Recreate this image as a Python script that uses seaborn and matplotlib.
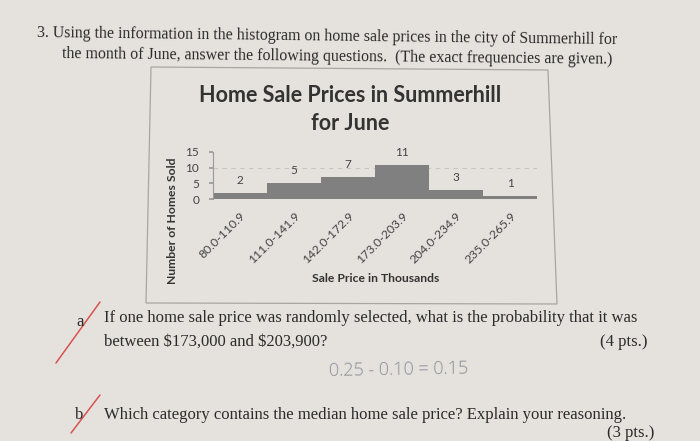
import matplotlib
matplotlib.use("Agg")
import matplotlib.pyplot as plt
import seaborn as sns
import pandas as pd
from matplotlib.patches import Polygon
from matplotlib.lines import Line2D

# ---- data ----
price_bins = ["80.0-110.9", "111.0-141.9", "142.0-172.9", "173.0-203.9", "204.0-234.9", "235.0-265.9"]
homes_sold = [2, 5, 7, 11, 3, 1]
y_ticks = [0, 5, 10, 15]

title_lines = ["Home Sale Prices in Summerhill", "for June"]
x_label = "Sale Price in Thousands"
y_label = "Number of Homes Sold"
question_intro = ["3. Using the information in the histogram on home sale prices in the city of Summerhill for",
                  "the month of June, answer the following questions.  (The exact frequencies are given.)"]
question_a = ["If one home sale price was randomly selected, what is the probability that it was",
              "between \\$173,000 and \\$203,900?"]
question_b = "Which category contains the median home sale price? Explain your reasoning."
handwriting = "0.25 - 0.10 = 0.15"

df = pd.DataFrame({"bin": price_bins, "count": homes_sold})

sns.set_theme(style="white")
paper = "#e5e1dc"
W, H = 700, 441
fig = plt.figure(figsize=(7, 4.41), dpi=100, facecolor=paper)

def fx(px):
    return px / W

def fy(py):
    return 1 - py / H

serif = ["Liberation Serif", "DejaVu Serif"]
sans = ["Lato", "DejaVu Sans"]
ink = "#2b2b2b"
fs_intro = 11.4
fs_q = 12.0

# chart frame (photographed, slightly skewed)
frame = Polygon([(fx(151), fy(67)), (fx(548), fy(70)), (fx(557), fy(304)), (fx(146), fy(303))],
                closed=True, fill=False, edgecolor="#a9a6a2", linewidth=0.9,
                transform=fig.transFigure)
fig.patches.append(frame)

# worksheet text
fig.text(fx(37), fy(33), question_intro[0], family=serif, fontsize=fs_intro, color=ink,
         ha="left", va="center", rotation=-0.7, rotation_mode="anchor")
fig.text(fx(62), fy(54), question_intro[1], family=serif, fontsize=fs_intro, color=ink,
         ha="left", va="center", rotation=-0.6, rotation_mode="anchor")

# chart title
fig.text(fx(350), fy(95), title_lines[0], family=sans, fontweight="bold", fontsize=15.5,
         color="#333333", ha="center", va="center")
fig.text(fx(350), fy(123), title_lines[1], family=sans, fontweight="bold", fontsize=15.5,
         color="#333333", ha="center", va="center")

# axes (plot area)
ax_left, ax_right, ax_bottom, ax_top = 213, 537, 199, 152
ax = fig.add_axes([fx(ax_left), fy(ax_bottom), fx(ax_right - ax_left), (ax_bottom - ax_top) / H])
ax.set_facecolor("none")

sns.barplot(data=df, x="bin", y="count", color="#808080", width=1.0, saturation=1,
            edgecolor="none", linewidth=0, ax=ax, zorder=2)
ax.axhline(10, color="#c8c4bf", linestyle=(0, (4, 4)), linewidth=0.8, zorder=1)

for cont in ax.containers:
    ax.bar_label(cont, labels=[str(v) for v in homes_sold], padding=5,
                 fontsize=8.5, family=sans, color="#444444")

ax.set_xlim(-0.5, len(price_bins) - 0.5)
ax.set_ylim(0, 15)
ax.set_yticks(y_ticks)
ax.set_yticklabels([str(t) for t in y_ticks], fontsize=8.5, family=sans, color="#444444")
ax.set_xticks(range(len(price_bins)))
ax.set_xticklabels(price_bins, rotation=45, ha="right", rotation_mode="anchor",
                   fontsize=8.8, family=sans, color="#444444")
ax.tick_params(axis="y", length=3, color="#9a9a9a", pad=7, left=True)
ax.tick_params(axis="x", length=0, pad=8)
for s in ["top", "right", "bottom"]:
    ax.spines[s].set_visible(False)
ax.spines["left"].set_color("#9a9a9a")
ax.spines["left"].set_linewidth(0.8)

ax.set_xlabel(x_label, family=sans, fontweight="bold", fontsize=8.7, color="#333333")
ax.set_ylabel(y_label, family=sans, fontweight="bold", fontsize=8.7, color="#333333")
ax.xaxis.set_label_coords((376 - ax_left) / (ax_right - ax_left), (ax_bottom - 278) / (ax_bottom - ax_top))
ax.yaxis.set_label_coords((172 - ax_left) / (ax_right - ax_left), (ax_bottom - 221) / (ax_bottom - ax_top))
ax.xaxis.label.set_verticalalignment("center")
ax.yaxis.label.set_verticalalignment("center")

# question a
fig.text(fx(76), fy(322), "a", family=serif, fontsize=fs_q, color=ink, ha="left", va="center")
fig.text(fx(104), fy(318), question_a[0], family=serif, fontsize=fs_q, color=ink, ha="left", va="center")
fig.text(fx(104), fy(342), question_a[1], family=serif, fontsize=fs_q, color=ink, ha="left", va="center")
fig.text(fx(648), fy(342), "(4 pts.)", family=serif, fontsize=fs_q, color=ink, ha="right", va="center")
fig.text(fx(399), fy(370), handwriting, family=["Open Sans", "DejaVu Sans"], fontweight="light",
         fontsize=13, color="#8c909a", ha="center", va="center", rotation=1)

# question b
fig.text(fx(75), fy(415), "b", family=serif, fontsize=fs_q, color=ink, ha="left", va="center")
fig.text(fx(104), fy(415), question_b, family=serif, fontsize=fs_q, color=ink, ha="left", va="center")
fig.text(fx(654), fy(433), "(3 pts.)", family=serif, fontsize=fs_q, color=ink, ha="right", va="center")

# red check strokes
fig.lines.append(Line2D([fx(56), fx(100)], [fy(363), fy(302)], transform=fig.transFigure,
                        color="#d9534f", linewidth=1.1))
fig.lines.append(Line2D([fx(71), fx(100)], [fy(433), fy(395)], transform=fig.transFigure,
                        color="#d9534f", linewidth=1.1))

fig.savefig("out.png", dpi=100, facecolor=paper)
